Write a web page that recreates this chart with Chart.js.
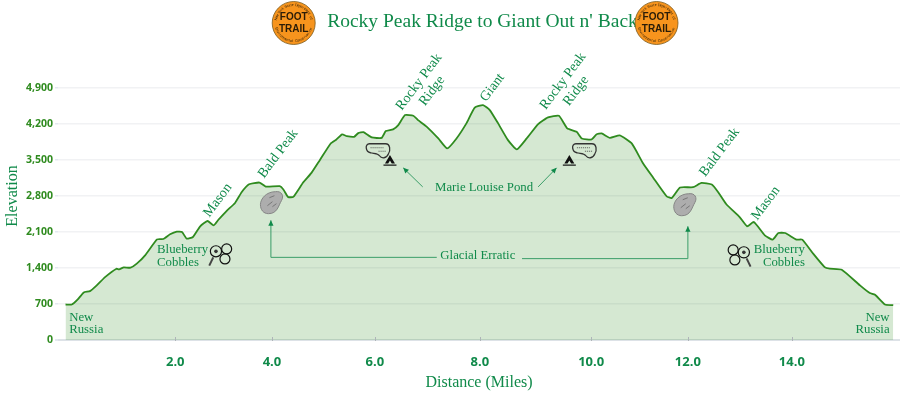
<!DOCTYPE html>
<html lang="en">
<head>
  <meta charset="UTF-8">
  <title>Rocky Peak Ridge to Giant Out n' Back</title>
  <script src="https://cdn.jsdelivr.net/npm/chart.js"></script>
  <style>
    * { margin: 0; padding: 0; }
    body { background: #fff; }
    #wrap { width: 900px; height: 396px; }
  </style>
</head>
<body>
  <div id="wrap"><canvas id="profile"></canvas></div>

  <script>
    // profile
    const miles = [0.03, 0.15, 0.26, 0.38, 0.50, 0.63, 0.79, 1.01, 1.06, 1.15, 1.28, 1.40, 1.56, 1.79, 1.91, 2.04, 2.17, 2.27, 2.36, 2.48,
      2.62, 2.76, 2.88, 2.97, 3.13, 3.29, 3.42, 3.56, 3.76, 3.88, 4.15, 4.22, 4.31, 4.41, 4.60, 4.76, 4.92, 5.13, 5.24, 5.35,
      5.44, 5.58, 5.66, 5.76, 5.92, 6.11, 6.19, 6.33, 6.43, 6.56, 6.72, 6.81, 6.98, 7.20, 7.37, 7.55, 7.74, 7.90, 8.06, 8.19,
      8.35, 8.54, 8.71, 8.90, 9.12, 9.31, 9.52, 9.68, 9.86, 9.96, 10.15, 10.24, 10.34, 10.50, 10.69, 10.92, 11.14, 11.33, 11.59, 11.69,
      11.85, 12.10, 12.26, 12.46, 12.58, 12.74, 13.00, 13.14, 13.27, 13.48, 13.63, 13.74, 13.87, 14.09, 14.20, 14.41, 14.63, 14.73, 14.96, 15.31,
      15.50, 15.60, 15.79, 15.95];
    const elevation = [690, 690, 783, 925, 950, 1062, 1223, 1387, 1373, 1412, 1406, 1484, 1646, 1958, 1964, 2055, 2108, 2100, 1971, 2003,
      2211, 2314, 2230, 2338, 2513, 2665, 2879, 3029, 3062, 2984, 2990, 2926, 2782, 2782, 3062, 3249, 3497, 3822, 3900, 3997,
      3964, 3951, 4023, 4042, 3939, 3931, 4062, 4095, 4178, 4373, 4360, 4276, 4145, 3919, 3725, 3919, 4212, 4519, 4568, 4471,
      4212, 3886, 3705, 3919, 4198, 4329, 4360, 4114, 4048, 3919, 3900, 3997, 4017, 3931, 3978, 3822, 3432, 3160, 2795, 2762,
      2965, 2971, 3054, 3023, 2879, 2640, 2386, 2211, 2295, 2036, 1952, 2080, 2080, 1952, 1952, 1679, 1418, 1387, 1367, 1062,
      912, 880, 691, 678];

    // the x ticks are not evenly spaced in the original
    const xTickPositions = [2.14, 4.0, 5.98, 8.0, 10.14, 12.0, 14.0];
    const xTickLabels = ['2.0', '4.0', '6.0', '8.0', '10.0', '12.0', '14.0'];
    const yTicks = [0, 700, 1400, 2100, 2800, 3500, 4200, 4900];

    // slanted peak names: [text, mile, feet]
    const peakLabels = [
      ['Mason', 2.96, 2717], ['Bald Peak', 4.12, 3623], ['Rocky Peak', 6.83, 5016], ['Ridge', 7.08, 4841], ['Giant', 8.24, 4909],
      ['Rocky Peak', 9.60, 5035], ['Ridge', 9.85, 4841], ['Bald Peak', 12.61, 3652], ['Mason', 13.5, 2659]
    ];
    // flat labels: [text, mile, feet, align]
    const flatLabels = [
      ['Blueberry', 1.79, 1753, 'left'], ['Cobbles', 1.79, 1510, 'left'],
      ['Blueberry', 14.25, 1753, 'right'], ['Cobbles', 14.25, 1510, 'right'],
      ['New', 0.1, 438, 'left'], ['Russia', 0.1, 195, 'left'],
      ['New', 15.88, 438, 'right'], ['Russia', 15.88, 195, 'right'],
      ['Marie Louise Pond', 8.08, 2971, 'center'], ['Glacial Erratic', 7.96, 1646, 'center']
    ];
    // arrows run from tail to tip, each point is [mile, feet]
    const arrows = [
      [[6.90, 2977], [6.525, 3347]],
      [[9.12, 2977], [9.475, 3347]],
      [[7.17, 1607], [3.98, 1607], [3.98, 2328]],
      [[8.81, 1582], [12.0, 1582], [12.0, 2211]]
    ];
    const boulders = [[3.99, 2670], [11.94, 2630]];
    const ponds = [[6.03, 3680], [10.0, 3680]];
    const tents = [[6.27, 3490], [9.72, 3490]];
    const berries = [[3.0, 1660, 1], [13.0, 1640, -1]];

    const GREEN = '#108a4a';
    const LINE = '#2f8b1f';
    const SERIF = "'Liberation Serif', serif";

    function at(chart, mile, feet) {
      return [chart.scales.x.getPixelForValue(mile), chart.scales.y.getPixelForValue(feet)];
    }

    function drawLogo(ctx, cx, cy) {
      ctx.save();
      ctx.beginPath();
      ctx.arc(cx, cy, 21.5, 0, Math.PI * 2);
      ctx.fillStyle = '#f7941d';
      ctx.fill();
      ctx.strokeStyle = '#7a5a1e';
      ctx.lineWidth = 0.8;
      ctx.stroke();
      ctx.fillStyle = '#2a1c08';
      ctx.textAlign = 'center';
      ctx.textBaseline = 'middle';
      ctx.font = "bold 10px 'Liberation Sans', sans-serif";
      ctx.fillText('FOOT', cx, cy - 6);
      ctx.fillText('TRAIL', cx, cy + 6.5);
      // tiny writing round the rim
      ctx.font = "3.6px 'Liberation Sans', sans-serif";
      ringText(ctx, 'New York State Department of', cx, cy, 18, -Math.PI / 2, 1);
      ringText(ctx, 'Environmental Conservation', cx, cy, 18, Math.PI / 2, -1);
      ctx.restore();
    }

    function ringText(ctx, text, cx, cy, r, mid, dir) {
      const step = 3.6 * 0.5 / r;
      [...text].forEach((ch, i) => {
        const a = mid + dir * (i - (text.length - 1) / 2) * step;
        ctx.save();
        ctx.translate(cx + Math.cos(a) * r, cy + Math.sin(a) * r);
        ctx.rotate(a + dir * Math.PI / 2);
        ctx.fillText(ch, 0, 0);
        ctx.restore();
      });
    }

    function drawArrow(ctx, pts) {
      ctx.strokeStyle = '#3a9d68';
      ctx.lineWidth = 1;
      ctx.beginPath();
      pts.forEach((p, i) => i ? ctx.lineTo(p[0], p[1]) : ctx.moveTo(p[0], p[1]));
      ctx.stroke();
      const tip = pts[pts.length - 1], prev = pts[pts.length - 2];
      const a = Math.atan2(tip[1] - prev[1], tip[0] - prev[0]);
      ctx.fillStyle = '#108a4a';
      ctx.beginPath();
      ctx.moveTo(tip[0], tip[1]);
      ctx.lineTo(tip[0] - 6 * Math.cos(a - 0.45), tip[1] - 6 * Math.sin(a - 0.45));
      ctx.lineTo(tip[0] - 6 * Math.cos(a + 0.45), tip[1] - 6 * Math.sin(a + 0.45));
      ctx.closePath();
      ctx.fill();
    }

    function drawBoulder(ctx, x, y) {
      ctx.save();
      ctx.translate(x, y);
      ctx.fillStyle = '#adadad';
      ctx.strokeStyle = '#858585';
      ctx.lineWidth = 1;
      ctx.beginPath();
      ctx.moveTo(-11, 2);
      ctx.bezierCurveTo(-11, -4, -5, -11, 4, -11);
      ctx.bezierCurveTo(10, -12, 13, -7, 10, -2);
      ctx.bezierCurveTo(7, 3, 6, 11, -3, 11);
      ctx.bezierCurveTo(-8, 11, -11, 7, -11, 2);
      ctx.closePath();
      ctx.fill();
      ctx.stroke();
      ctx.strokeStyle = '#777';
      ctx.beginPath();
      ctx.moveTo(-4, 3); ctx.lineTo(1, -1);
      ctx.moveTo(1, 4); ctx.lineTo(5, 1);
      ctx.moveTo(-2, -5); ctx.lineTo(3, -7);
      ctx.stroke();
      ctx.restore();
    }

    function drawPond(ctx, x, y) {
      ctx.save();
      ctx.translate(x, y);
      ctx.strokeStyle = '#333';
      ctx.lineWidth = 1.3;
      ctx.beginPath();
      ctx.moveTo(-8, -7);
      ctx.lineTo(8, -7);
      ctx.bezierCurveTo(13, -7, 13, 0, 11, 3);
      ctx.bezierCurveTo(9, 8, 4, 8, 2, 5);
      ctx.bezierCurveTo(0, 2, -4, 3, -7, 2);
      ctx.bezierCurveTo(-12, 1, -13, -7, -8, -7);
      ctx.closePath();
      ctx.stroke();
      ctx.lineWidth = 0.7;
      ctx.setLineDash([1.2, 0.8]);
      ctx.beginPath();
      ctx.moveTo(-7, -3); ctx.lineTo(6, -3);
      ctx.moveTo(1, 0.5); ctx.lineTo(9, 0.5);
      ctx.stroke();
      ctx.restore();
    }

    function drawTent(ctx, x, y) {
      ctx.save();
      ctx.translate(x, y);
      ctx.fillStyle = '#111';
      ctx.beginPath();
      ctx.moveTo(0, -5.5);
      ctx.lineTo(5, 3);
      ctx.lineTo(1.8, 3);
      ctx.lineTo(0, 0);
      ctx.lineTo(-1.8, 3);
      ctx.lineTo(-5, 3);
      ctx.closePath();
      ctx.fill();
      ctx.fillRect(-6.5, 4, 13, 1.2);
      ctx.restore();
    }

    function drawBerries(ctx, x, y, dir) {
      ctx.save();
      ctx.translate(x, y);
      ctx.scale(dir, 1);
      ctx.strokeStyle = '#111';
      ctx.lineWidth = 1.2;
      [[-4, -3.3, 5.6], [6.7, -5.7, 5], [5, 4.3, 5]].forEach(c => {
        ctx.beginPath();
        ctx.arc(c[0], c[1], c[2], 0, Math.PI * 2);
        ctx.stroke();
      });
      ctx.fillStyle = '#333';
      ctx.beginPath();
      ctx.arc(-4, -3.3, 1.8, 0, Math.PI * 2);
      ctx.fill();
      ctx.strokeStyle = '#444';
      ctx.lineWidth = 2;
      ctx.beginPath();
      ctx.moveTo(-6.7, 2.7);
      ctx.lineTo(-10.7, 11);
      ctx.stroke();
      ctx.restore();
    }

    const extras = {
      id: 'extras',
      afterDatasetsDraw(chart) {
        const ctx = chart.ctx;
        ctx.save();

        // short ticks straddling the baseline
        const base = chart.scales.y.getPixelForValue(0);
        ctx.strokeStyle = '#aeb4b8';
        ctx.lineWidth = 1;
        xTickPositions.forEach(v => {
          const x = Math.round(chart.scales.x.getPixelForValue(v)) + 0.5;
          ctx.beginPath();
          ctx.moveTo(x, base - 3);
          ctx.lineTo(x, base + 1);
          ctx.stroke();
        });

        arrows.forEach(a => drawArrow(ctx, a.map(p => at(chart, p[0], p[1]))));
        boulders.forEach(b => drawBoulder(ctx, ...at(chart, b[0], b[1])));
        ponds.forEach(p => drawPond(ctx, ...at(chart, p[0], p[1])));
        tents.forEach(t => drawTent(ctx, ...at(chart, t[0], t[1])));
        berries.forEach(b => drawBerries(ctx, ...at(chart, b[0], b[1]), b[2]));

        ctx.fillStyle = GREEN;
        ctx.textBaseline = 'middle';
        ctx.font = '14px ' + SERIF;
        ctx.textAlign = 'center';
        peakLabels.forEach(l => {
          const p = at(chart, l[1], l[2]);
          ctx.save();
          ctx.translate(p[0], p[1]);
          ctx.rotate(-53 * Math.PI / 180);
          ctx.fillText(l[0], 0, 0);
          ctx.restore();
        });

        ctx.font = '12.8px ' + SERIF;
        flatLabels.forEach(l => {
          const p = at(chart, l[1], l[2]);
          ctx.textAlign = l[3];
          ctx.fillText(l[0], p[0], p[1]);
        });

        // title sits a little right of the plot centre, between the two badges
        ctx.font = '19.5px ' + SERIF;
        ctx.textAlign = 'center';
        ctx.fillText("Rocky Peak Ridge to Giant Out n' Back", 482.5, 22);

        drawLogo(ctx, 293.7, 23);
        drawLogo(ctx, 656.5, 23);
        ctx.restore();
      }
    };

    new Chart(document.getElementById('profile').getContext('2d'), {
      type: 'line',
      data: {
        datasets: [{
          data: miles.map((m, i) => ({ x: m, y: elevation[i] })),
          borderColor: LINE,
          borderWidth: 1.8,
          backgroundColor: 'rgba(46,139,32,0.2)',
          fill: 'origin',
          pointRadius: 0,
          tension: 0.15
        }]
      },
      options: {
        responsive: true,
        maintainAspectRatio: false,
        animation: false,
        layout: { padding: { top: 52 } },
        plugins: {
          legend: { display: false },
          tooltip: { enabled: false }
        },
        scales: {
          x: {
            type: 'linear',
            min: -0.115,
            max: 16.08,
            afterFit(s) { s.height = 56; },
            afterBuildTicks(s) { s.ticks = xTickPositions.map(v => ({ value: v })); },
            grid: { display: false },
            border: { display: false },
            ticks: {
              autoSkip: false,
              maxRotation: 0,
              padding: 6,
              color: GREEN,
              font: { family: "'Open Sans', sans-serif", size: 13, weight: 'bold' },
              callback(v) { return xTickLabels[xTickPositions.indexOf(v)]; }
            },
            title: {
              display: true,
              text: 'Distance (Miles)',
              color: GREEN,
              font: { family: SERIF, size: 16 },
              padding: { top: 0, bottom: 3.4 }
            }
          },
          y: {
            min: 0,
            max: 5600,
            afterFit(s) { s.width = 58; },
            afterBuildTicks(s) { s.ticks = yTicks.map(v => ({ value: v })); },
            grid: {
              color: c => c.tick && c.tick.value === 0 ? '#dde2e7' : '#f1f2f4',
              lineWidth: c => c.tick && c.tick.value === 0 ? 2 : 1.5,
              tickLength: 3,
              tickColor: '#e3e9f0'
            },
            border: { display: false },
            ticks: {
              padding: 2,
              color: LINE,
              font: { family: "'Open Sans', sans-serif", size: 10.5, weight: 'bold' },
              callback: v => v.toLocaleString('en-US')
            },
            title: {
              display: true,
              text: 'Elevation',
              color: GREEN,
              font: { family: SERIF, size: 16 },
              padding: { top: 3.4, bottom: 0 }
            }
          }
        }
      },
      plugins: [extras]
    });
  </script>
</body>
</html>
